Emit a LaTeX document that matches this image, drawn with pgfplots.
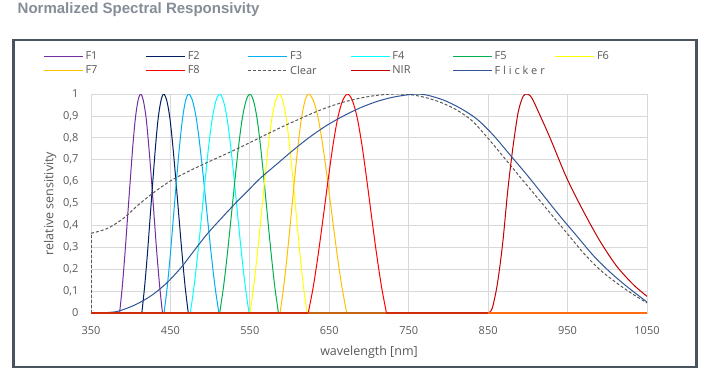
\documentclass[border=0pt]{standalone}
\usepackage{fontspec}
\setmainfont{Open Sans}
\newfontfamily\titlefont{Liberation Sans}
\usepackage{pgfplots}
\pgfplotsset{compat=1.18}
\definecolor{cF1}{HTML}{7030A0}
\definecolor{cF2}{HTML}{002060}
\definecolor{cF3}{HTML}{00B0F0}
\definecolor{cF4}{HTML}{00FFFF}
\definecolor{cF5}{HTML}{00B050}
\definecolor{cF6}{HTML}{FFFF00}
\definecolor{cF7}{HTML}{FFC000}
\definecolor{cF8}{HTML}{FF0000}
\definecolor{cClear}{HTML}{595959}
\definecolor{cNIR}{HTML}{C00000}
\definecolor{cFlick}{HTML}{2F5597}
\definecolor{txt}{HTML}{595959}
\definecolor{gridc}{HTML}{D9D9D9}
\definecolor{framec}{HTML}{48535D}
\definecolor{titlec}{HTML}{858D98}
\definecolor{base1}{HTML}{D02A0A}
\definecolor{base2}{HTML}{C46414}
\definecolor{base3}{HTML}{FF6A13}
\newcommand{\legtxt}[1]{\makebox[58pt][l]{#1}}
\begin{document}
\begin{tikzpicture}
\useasboundingbox (0pt,0pt) rectangle (708pt,389pt);
\node[anchor=base west, inner sep=0pt, text=titlec, font=\titlefont\bfseries\fontsize{15}{18}\selectfont] at (17.5pt,375.7pt) {Normalized Spectral Responsivity};
\draw[framec, line width=2.5pt] (13.3pt,22pt) rectangle (696.7pt,349pt);
\begin{axis}[
  at={(91pt,76pt)}, anchor=south west,
  scale only axis, width=556pt, height=219pt,
  xmin=350, xmax=1050, ymin=0, ymax=1,
  xtick={350,450,...,1050},
  ytick={0,0.1,0.2,0.3,0.4,0.5,0.6,0.7,0.8,0.9,1},
  grid=major, major grid style={gridc, line width=0.8pt},
  axis line style={gridc, line width=0.8pt},
  major tick length=0pt,
  tick label style={text=txt, font=\fontsize{11}{13}\selectfont},
  /pgf/number format/assume math mode=true,
  /pgf/number format/use comma,
  /pgf/number format/1000 sep={},
  xticklabel style={yshift=-10pt},
  yticklabel style={xshift=-9pt},
  xlabel={wavelength [nm]}, ylabel={relative sensitivity},
  label style={text=txt, font=\fontsize{12.5}{15}\selectfont},
  xlabel style={at={(axis description cs:0.5,-0.18)}, anchor=center},
  ylabel style={at={(axis description cs:-0.0737,0.5)}, anchor=center},
  every axis plot/.append style={line width=1pt},
  legend columns=6,
  legend cell align=left,
  legend style={at={(axis description cs:-0.0917,1.212)}, anchor=north west,
    draw=none, text=txt, font=\fontsize{11}{13}\selectfont,
    /tikz/every even column/.append style={column sep=0pt},
    row sep=0.5pt},
  legend image code/.code={\draw[#1] (0pt,0pt) -- (39pt,0pt);},
  legend image post style={line width=1.3pt, sharp plot},
]
\addplot[cF1, smooth] coordinates {(386,0) (389.3,0.117) (392.6,0.264) (395.9,0.43) (399.3,0.60) (402.6,0.76) (405.9,0.89) (409.2,0.97) (412.5,1) (415.9,0.97) (419.4,0.89) (422.8,0.76) (426.3,0.60) (429.7,0.43) (433.1,0.264) (436.6,0.117) (440,0)};
\addlegendentry{\legtxt{F1}}
\addplot[cF2, smooth] coordinates {(414,0) (417.4,0.117) (420.9,0.264) (424.3,0.43) (427.8,0.60) (431.2,0.76) (434.6,0.89) (438.1,0.97) (441.5,1) (445.4,0.97) (449.3,0.89) (453.1,0.76) (457,0.60) (460.9,0.43) (464.8,0.264) (468.6,0.117) (472.5,0)};
\addlegendentry{\legtxt{F2}}
\addplot[cF3, smooth] coordinates {(442,0) (445.9,0.117) (449.8,0.264) (453.6,0.43) (457.5,0.60) (461.4,0.76) (465.3,0.89) (469.1,0.97) (473,1) (477.75,0.97) (482.5,0.89) (487.25,0.76) (492,0.60) (496.75,0.43) (501.5,0.264) (506.25,0.117) (511,0)};
\addlegendentry{\legtxt{F3}}
\addplot[cF4, smooth] coordinates {(475,0) (479.6,0.117) (484.25,0.264) (488.9,0.43) (493.5,0.60) (498.1,0.76) (502.75,0.89) (507.4,0.97) (512,1) (516.6,0.97) (521.25,0.89) (525.9,0.76) (530.5,0.60) (535.1,0.43) (539.75,0.264) (544.4,0.117) (549,0)};
\addlegendentry{\legtxt{F4}}
\addplot[cF5, smooth] coordinates {(512,0) (516.75,0.117) (521.5,0.264) (526.25,0.43) (531,0.60) (535.75,0.76) (540.5,0.89) (545.25,0.97) (550,1) (554.5,0.97) (559,0.89) (563.5,0.76) (568,0.60) (572.5,0.43) (577,0.264) (581.5,0.117) (586,0)};
\addlegendentry{\legtxt{F5}}
\addplot[cF6, smooth] coordinates {(550,0) (554.6,0.117) (559.25,0.264) (563.9,0.43) (568.5,0.60) (573.1,0.76) (577.75,0.89) (582.4,0.97) (587,1) (591.4,0.97) (595.75,0.89) (600.1,0.76) (604.5,0.60) (608.9,0.43) (613.25,0.264) (617.6,0.117) (622,0)};
\addlegendentry{\legtxt{F6}}
\addplot[cF7, smooth] coordinates {(588,0) (592.5,0.117) (597,0.264) (601.5,0.43) (606,0.60) (610.5,0.76) (615,0.89) (619.5,0.97) (624,1) (630,0.97) (636,0.89) (642,0.76) (648,0.60) (654,0.43) (660,0.264) (666,0.117) (672,0)};
\addlegendentry{\legtxt{F7}}
\addplot[cF8, smooth] coordinates {(623.5,0) (629.7,0.117) (635.9,0.264) (642.1,0.43) (648.25,0.60) (654.4,0.76) (660.6,0.89) (666.8,0.97) (673,1) (679.1,0.97) (685.25,0.89) (691.4,0.76) (697.5,0.60) (703.6,0.43) (709.75,0.264) (715.9,0.117) (722,0)};
\addlegendentry{\legtxt{F8}}
\addplot[cClear, smooth, dash pattern=on 3pt off 2pt] coordinates {(350,0.364) (370,0.385) (390,0.43) (410,0.495) (430,0.553) (450,0.603) (470,0.642) (490,0.677) (510,0.71) (530,0.743) (550,0.778) (570,0.814) (590,0.849) (610,0.882) (630,0.914) (650,0.942) (670,0.965) (690,0.982) (710,0.994) (730,1.0) (750,0.998) (770,0.985) (790,0.962) (810,0.928) (830,0.877) (850,0.797) (870,0.71) (890,0.622) (910,0.535) (930,0.448) (950,0.361) (970,0.274) (990,0.2) (1010,0.142) (1030,0.091) (1050,0.046)};
\addlegendentry{\legtxt{Clear}}
\addplot[cNIR, smooth] coordinates {(850,0) (855,0.02) (860.7,0.113) (865,0.22) (869,0.342) (875,0.57) (881.7,0.77) (888,0.92) (894,0.989) (899,1) (905,0.982) (915,0.905) (928,0.799) (949,0.616) (970,0.464) (991,0.327) (1012,0.213) (1033,0.129) (1050,0.076)};
\addlegendentry{\legtxt{NIR}}
\addplot[cFlick, smooth] coordinates {(350,0) (370,0.002) (384,0.008) (401,0.03) (415.5,0.056) (430,0.09) (447,0.143) (464,0.21) (480.5,0.288) (497,0.364) (514,0.432) (531,0.498) (548,0.56) (563,0.615) (584,0.68) (605,0.745) (626,0.805) (647,0.857) (668,0.9) (689,0.937) (710,0.966) (731,0.986) (752,0.998) (760,1.0) (773,0.995) (794,0.972) (815,0.935) (836,0.885) (857,0.81) (878,0.72) (899,0.63) (920,0.535) (941,0.44) (962,0.35) (983,0.26) (1004,0.185) (1025,0.12) (1050,0.05)};
\addlegendentry{\legtxt{F l i c k e r}}
\addplot[cClear, dash pattern=on 3pt off 2pt, forget plot] coordinates {(350,0) (350,0.364)};
\addplot[base1, line width=2.2pt, forget plot] coordinates {(350,0) (623,0)};
\addplot[base2, line width=2.2pt, forget plot] coordinates {(623,0) (722,0)};
\addplot[base1, line width=2.2pt, forget plot] coordinates {(722,0) (850,0)};
\addplot[base3, line width=2.2pt, forget plot] coordinates {(850,0) (1050,0)};
\end{axis}
\end{tikzpicture}
\end{document}
